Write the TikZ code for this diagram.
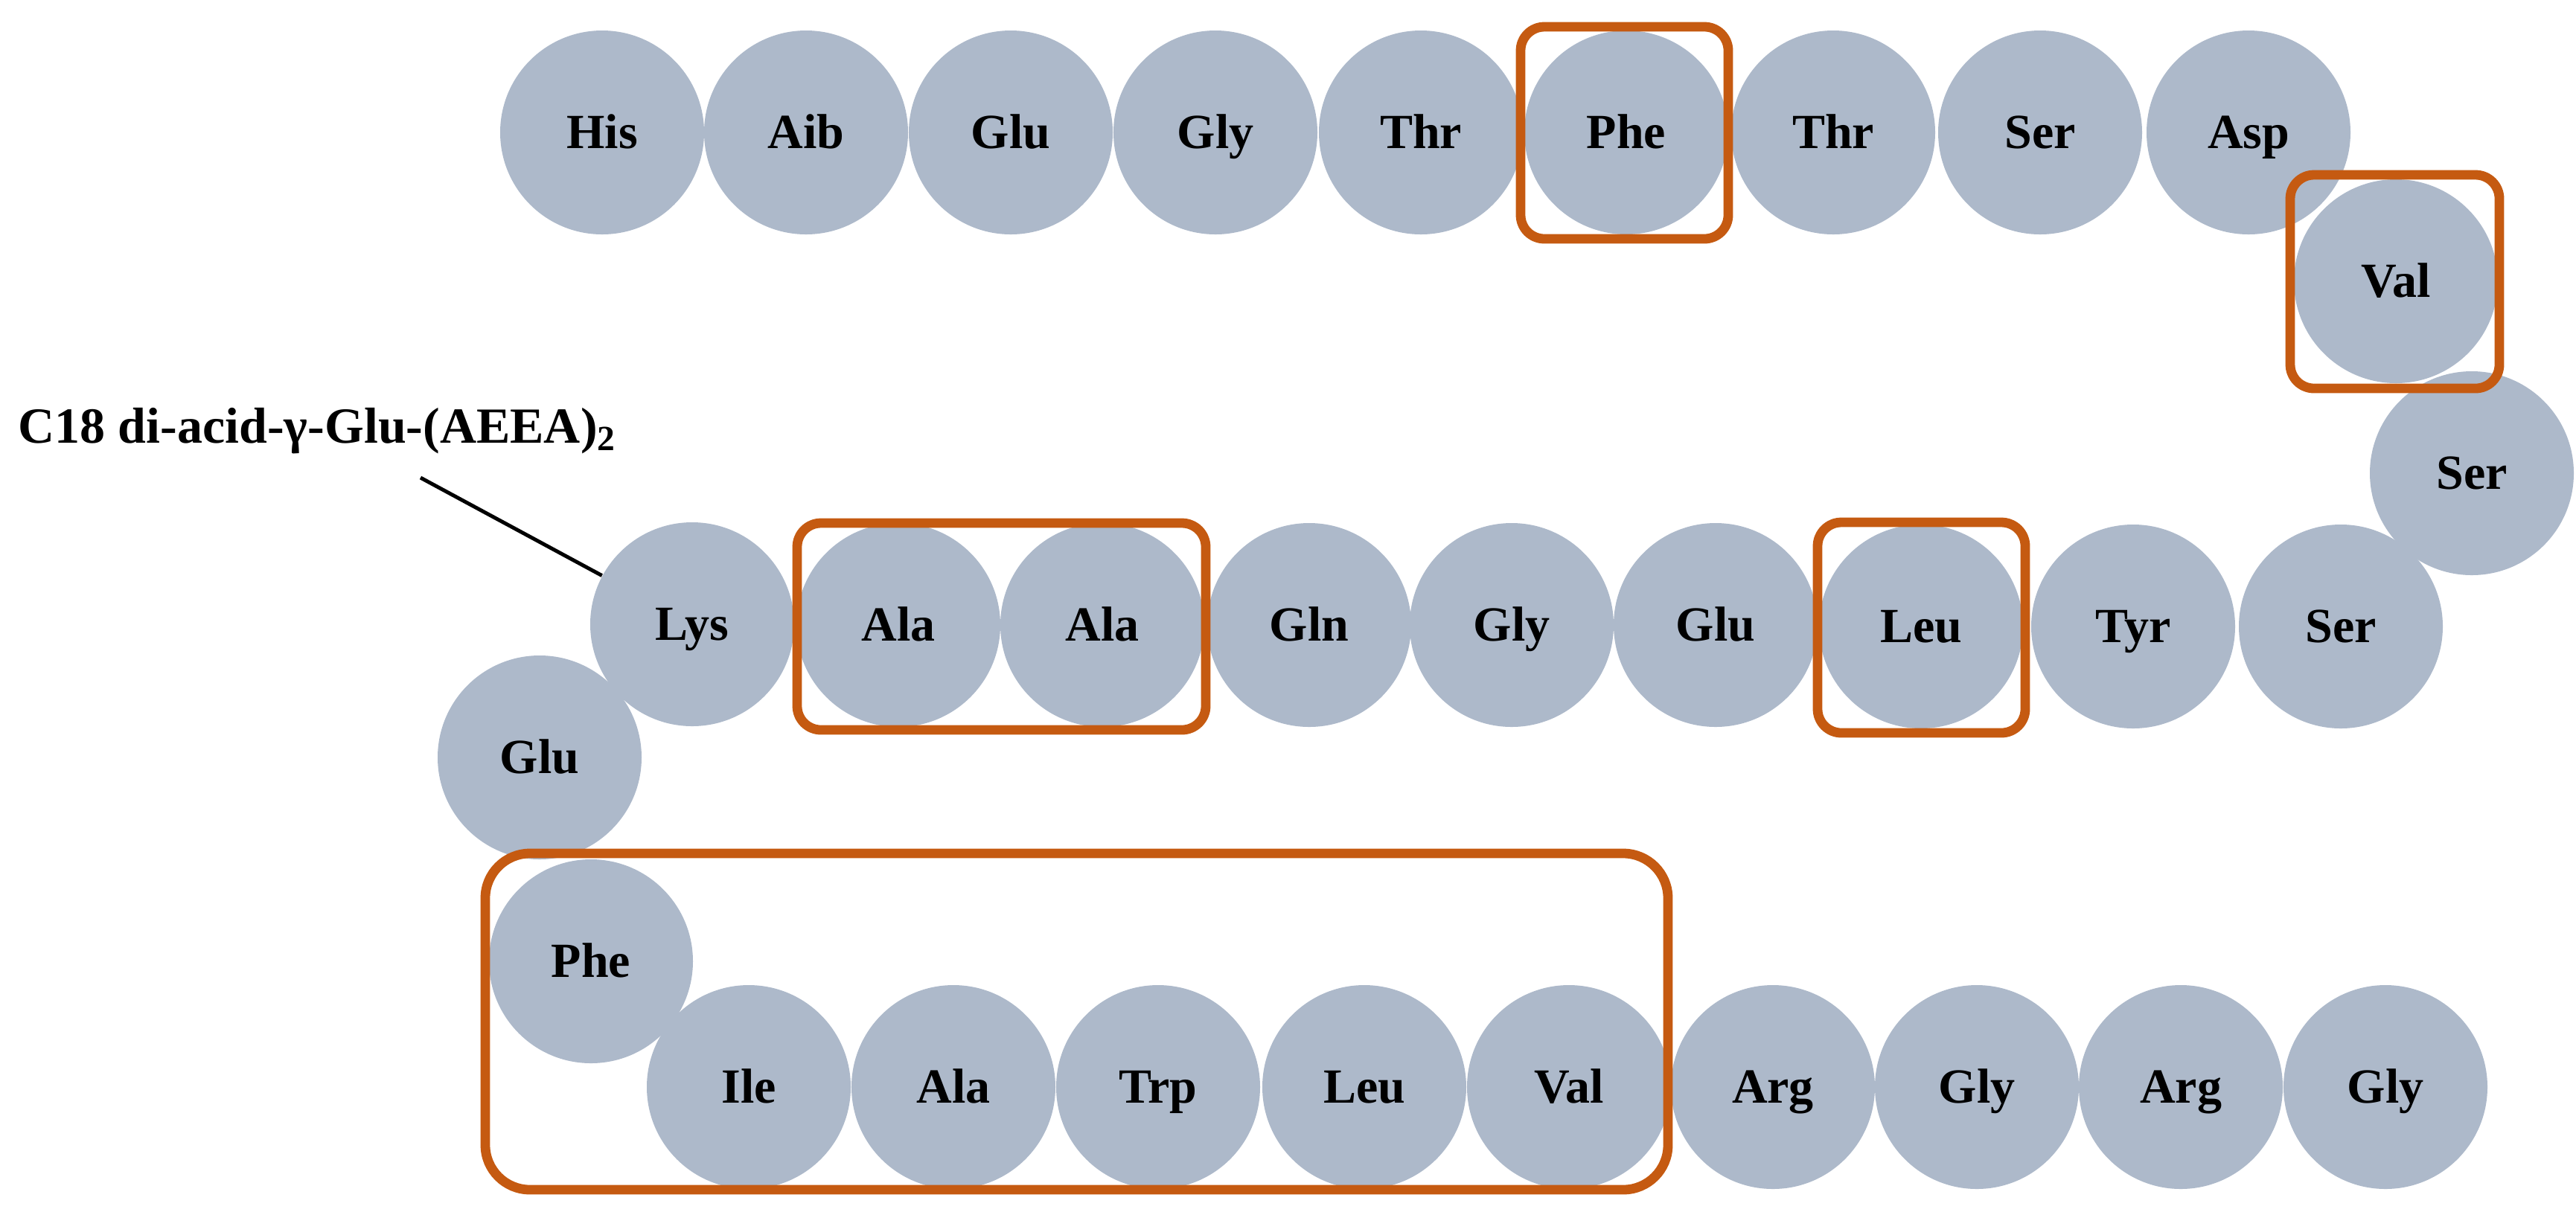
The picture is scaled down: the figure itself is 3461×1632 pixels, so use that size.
\documentclass[tikz,border=0pt]{standalone}
\usepackage{fontspec}
\setmainfont{Liberation Serif}
\definecolor{res}{HTML}{ADB9CA}
\definecolor{hl}{HTML}{C55A11}
\tikzset{
  aa/.style={circle, fill=res, minimum size=68.5pt, inner sep=0pt,
    font=\bfseries\fontsize{16.5}{18}\selectfont, text height=10.9pt, text depth=0pt},
  hlbox/.style={draw=hl, line width=3.2pt, rounded corners=8pt},
  bigbox/.style={draw=hl, line width=3.2pt, rounded corners=15pt},
  pointer/.style={draw=black, line width=1.25pt},
}
\begin{document}
\begin{tikzpicture}[x=0.25pt,y=-0.25pt]
\useasboundingbox (0,0) rectangle (3461,1632);
% top row
\node[aa] (t1) at (809,178) {His};
\node[aa] (t2) at (1083,178) {Aib};
\node[aa] (t3) at (1358,178) {Glu};
\node[aa] (t4) at (1633,178) {Gly};
\node[aa] (t5) at (1909,178) {Thr};
\node[aa] (t6) at (2185,178) {Phe};
\node[aa] (t7) at (2463,178) {Thr};
\node[aa] (t8) at (2741,178) {Ser};
\node[aa] (t9) at (3021,178) {Asp};
% turn right
\node[aa] (r1) at (3219,378) {Val};
\node[aa] (r2) at (3321,636) {Ser};
% middle row
\node[aa] (m9) at (3145,842) {Ser};
\node[aa] (m8) at (2866,842) {Tyr};
\node[aa] (m7) at (2581,842) {Leu};
\node[aa] (m6) at (2305,840) {Glu};
\node[aa] (m5) at (2031,840) {Gly};
\node[aa] (m4) at (1759,840) {Gln};
\node[aa] (m3) at (1481,840) {Ala};
\node[aa] (m2) at (1207,840) {Ala};
\node[aa] (lys) at (930,839) {Lys};
% turn left
\node[aa] (l1) at (725,1018) {Glu};
\node[aa] (l2) at (794,1292) {Phe};
% bottom row
\node[aa] (b1) at (1006,1461) {Ile};
\node[aa] (b2) at (1281,1461) {Ala};
\node[aa] (b3) at (1556,1461) {Trp};
\node[aa] (b4) at (1833,1461) {Leu};
\node[aa] (b5) at (2108,1461) {Val};
\node[aa] (b6) at (2382,1461) {Arg};
\node[aa] (b7) at (2656,1461) {Gly};
\node[aa] (b8) at (2930,1461) {Arg};
\node[aa] (b9) at (3205,1461) {Gly};
% highlight boxes
\draw[hlbox] (2043,36) rectangle (2322,321);
\draw[hlbox] (3077,235) rectangle (3358,522);
\draw[hlbox] (1071,703) rectangle (1620,981);
\draw[hlbox] (2442,702) rectangle (2721,985);
\draw[bigbox] (652,1147) rectangle (2241,1599);
% label
\node[anchor=base west, inner sep=0pt, font=\bfseries\fontsize{17}{19}\selectfont] (lbl) at (24,595)
  {C18 di-acid-γ-Glu-(AEEA)\textsubscript{2}};
\coordinate (lblend) at (565,642);
\draw[pointer] (lblend) -- (lys);
\end{tikzpicture}
\end{document}
